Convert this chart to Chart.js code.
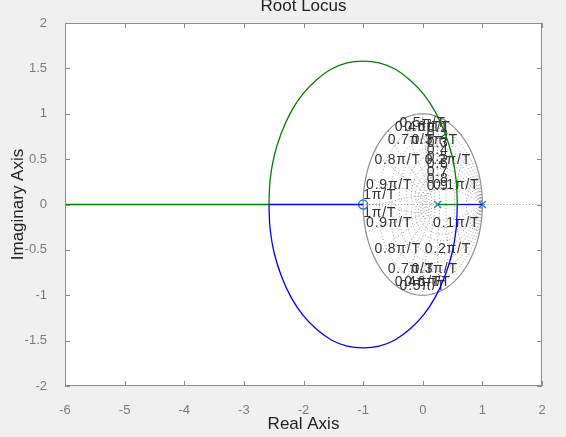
<!DOCTYPE html>
<html lang="en">
<head>
  <meta charset="UTF-8" />
  <title>Root Locus</title>
  <script src="https://cdn.jsdelivr.net/npm/chart.js"></script>
  <style>
    html, body {
      margin: 0;
      padding: 0;
      background: #f0f0f0;
    }
    #locus {
      display: block;
    }
  </style>
</head>
<body>
  <canvas id="locus" width="566" height="437"></canvas>
  <script>
  // complex part of the locus (upper half = green branch)
  const greenArcRe = [0.58, 0.56, 0.49, 0.37, 0.21, 0.02, -0.21, -0.46, -0.73, -1.00, -1.27, -1.54, -1.79, -2.02, -2.21, -2.37, -2.49, -2.56, -2.58];
  const greenArcIm = [0, 0.27, 0.54, 0.79, 1.02, 1.21, 1.37, 1.49, 1.56, 1.58, 1.56, 1.49, 1.37, 1.21, 1.02, 0.79, 0.54, 0.27, 0];
  const blueArcRe = [0.58, 0.56, 0.49, 0.37, 0.21, 0.02, -0.21, -0.46, -0.73, -1.00, -1.27, -1.54, -1.79, -2.02, -2.21, -2.37, -2.49, -2.56, -2.58];
  const blueArcIm = [0, -0.27, -0.54, -0.79, -1.02, -1.21, -1.37, -1.49, -1.56, -1.58, -1.56, -1.49, -1.37, -1.21, -1.02, -0.79, -0.54, -0.27, 0];
  // real-axis pieces: [from, to]
  const greenAxisRight = [0.25, 0.58];
  const greenAxisLeft = [-2.58, -6];
  const blueAxisRight = [1, 0.58];
  const blueAxisLeft = [-2.58, -1];

  const poleRe = [0.25, 1];
  const poleIm = [0, 0];
  const zeroRe = [-1];
  const zeroIm = [0];

  // zgrid settings
  const dampingRatios = [0.1, 0.2, 0.3, 0.4, 0.5, 0.6, 0.7, 0.8, 0.9];
  const dampingLabelY = [0.84, 0.76, 0.68, 0.60, 0.52, 0.44, 0.36, 0.28, 0.20];
  const natFreqs = [0.1, 0.2, 0.3, 0.4, 0.5, 0.6, 0.7, 0.8, 0.9, 1];

  const xTicksMin = -6, xTicksMax = 2;
  const yTicksMin = -2, yTicksMax = 2;

  const toPts = (re, im) => re.map((v, i) => ({ x: v, y: im[i] }));
  const onAxis = seg => seg.map(v => ({ x: v, y: 0 }));

  const FONT = '"Liberation Sans", Arial, sans-serif';
  const BOX = '#8c8c8c';
  const GREEN = '#008000', BLUE = '#0000ff';

  const zgrid = {
    id: 'zgrid',
    beforeDraw(chart) {
      const { ctx, chartArea: a } = chart;
      ctx.save();
      ctx.fillStyle = '#f0f0f0';
      ctx.fillRect(0, 0, chart.width, chart.height);
      ctx.fillStyle = '#fff';
      ctx.fillRect(a.left, a.top, a.right - a.left, a.bottom - a.top);
      ctx.restore();
    },
    beforeDatasetsDraw(chart) {
      const { ctx, chartArea: a } = chart;
      const xs = chart.scales.x, ys = chart.scales.y;
      const px = v => xs.getPixelForValue(v);
      const py = v => ys.getPixelForValue(v);
      const line = pts => {
        ctx.beginPath();
        pts.forEach((p, i) => i ? ctx.lineTo(px(p[0]), py(p[1])) : ctx.moveTo(px(p[0]), py(p[1])));
        ctx.stroke();
      };
      ctx.save();
      ctx.beginPath();
      ctx.rect(a.left, a.top, a.right - a.left, a.bottom - a.top);
      ctx.clip();

      ctx.strokeStyle = '#6e6e6e';
      ctx.lineWidth = 0.7;
      ctx.setLineDash([1, 2.2]);
      // real axis
      line([[xTicksMin, 0], [xTicksMax, 0]]);
      // constant damping
      dampingRatios.forEach(z => {
        const m = z / Math.sqrt(1 - z * z);
        [1, -1].forEach(s => {
          const pts = [];
          for (let i = 0; i <= 80; i++) {
            const th = Math.PI * i / 80, r = Math.exp(-m * th);
            pts.push([r * Math.cos(th), s * r * Math.sin(th)]);
          }
          line(pts);
        });
      });
      // constant natural frequency
      natFreqs.forEach(k => {
        const w = k * Math.PI;
        [1, -1].forEach(s => {
          const pts = [];
          for (let i = 0; i <= 50; i++) {
            const z = i / 50, r = Math.exp(-w * z), ang = w * Math.sqrt(1 - z * z);
            pts.push([r * Math.cos(ang), s * r * Math.sin(ang)]);
          }
          line(pts);
        });
      });
      // unit circle
      ctx.setLineDash([]);
      ctx.strokeStyle = '#8f8f8f';
      ctx.lineWidth = 1.2;
      const circ = [];
      for (let i = 0; i <= 120; i++) {
        const t = 2 * Math.PI * i / 120;
        circ.push([Math.cos(t), Math.sin(t)]);
      }
      line(circ);

      // labels
      ctx.fillStyle = '#333';
      ctx.font = '14px ' + FONT;
      ctx.letterSpacing = '0.8px';
      natFreqs.forEach(k => {
        const c = Math.cos(k * Math.PI), sn = Math.sin(k * Math.PI);
        const txt = (k === 1 ? '1' : k.toFixed(1)) + '\u03c0/T';
        ctx.textAlign = Math.abs(c) < 1e-6 ? 'center' : (c > 0 ? 'right' : 'left');
        ctx.textBaseline = 'top';
        ctx.fillText(txt, px(c), py(sn) + 2);
        ctx.textBaseline = 'bottom';
        ctx.fillText(txt, px(c), py(-sn) - 2);
      });
      ctx.textAlign = 'center';
      ctx.textBaseline = 'middle';
      dampingRatios.forEach((z, i) => {
        ctx.fillText(String(z), px(0.25), py(dampingLabelY[i]));
      });
      ctx.restore();
    },
    afterDraw(chart) {
      const { ctx, chartArea: a } = chart;
      const xs = chart.scales.x, ys = chart.scales.y;
      ctx.save();
      ctx.strokeStyle = BOX;
      ctx.lineWidth = 1;
      ctx.strokeRect(a.left + 0.5, a.top + 0.5, a.right - a.left - 1, a.bottom - a.top - 1);
      ctx.beginPath();
      xs.ticks.forEach(t => {
        const x = Math.round(xs.getPixelForValue(t.value)) + 0.5;
        ctx.moveTo(x, a.bottom); ctx.lineTo(x, a.bottom - 5);
        ctx.moveTo(x, a.top); ctx.lineTo(x, a.top + 5);
      });
      ys.ticks.forEach(t => {
        const y = Math.round(ys.getPixelForValue(t.value)) + 0.5;
        ctx.moveTo(a.left, y); ctx.lineTo(a.left + 5, y);
        ctx.moveTo(a.right, y); ctx.lineTo(a.right - 5, y);
      });
      ctx.stroke();

      ctx.fillStyle = '#222';
      ctx.font = '17px ' + FONT;
      ctx.textAlign = 'center';
      ctx.textBaseline = 'alphabetic';
      const cx = (a.left + a.right) / 2;
      ctx.fillText('Root Locus', cx, 11);
      ctx.textBaseline = 'middle';
      ctx.fillText('Real Axis', cx, 424);
      ctx.translate(18, (a.top + a.bottom) / 2);
      ctx.rotate(-Math.PI / 2);
      ctx.fillText('Imaginary Axis', 0, 0);
      ctx.restore();
    }
  };

  const tickFont = { family: FONT, size: 13 };
  const branch = (pts, color, tension) => ({
    data: pts,
    showLine: true,
    borderColor: color,
    borderWidth: 1.3,
    pointRadius: 0,
    tension: tension
  });

  new Chart(document.getElementById('locus'), {
    type: 'scatter',
    data: {
      datasets: [
        branch(toPts(blueArcRe, blueArcIm), BLUE, 0.4),
        branch(onAxis(blueAxisRight), BLUE, 0),
        branch(onAxis(blueAxisLeft), BLUE, 0),
        branch(toPts(greenArcRe, greenArcIm), GREEN, 0.4),
        branch(onAxis(greenAxisRight), GREEN, 0),
        branch(onAxis(greenAxisLeft), GREEN, 0),
        {
          data: toPts(poleRe, poleIm),
          pointStyle: 'crossRot',
          pointRadius: 5,
          borderColor: '#2a86cf',
          borderWidth: 1.5
        },
        {
          data: toPts(zeroRe, zeroIm),
          pointStyle: 'circle',
          pointRadius: 4.5,
          backgroundColor: 'rgba(0,0,0,0)',
          borderColor: '#2a86cf',
          borderWidth: 1.5
        }
      ]
    },
    options: {
      responsive: false,
      animation: false,
      events: [],
      layout: { padding: { top: 23, right: 24, left: 0, bottom: 0 } },
      plugins: { legend: { display: false }, tooltip: { enabled: false } },
      scales: {
        x: {
          type: 'linear',
          min: xTicksMin,
          max: xTicksMax,
          afterFit: s => { s.height = 51; },
          grid: { display: false },
          border: { display: false },
          ticks: { stepSize: 1, padding: 9, color: '#7a7a7a', font: tickFont, maxRotation: 0, autoSkip: false, callback: v => String(v) }
        },
        y: {
          min: yTicksMin,
          max: yTicksMax,
          afterFit: s => { s.width = 65; },
          grid: { display: false },
          border: { display: false },
          ticks: { stepSize: 0.5, padding: 10, color: '#7a7a7a', font: tickFont, autoSkip: false, callback: v => String(v) }
        }
      }
    },
    plugins: [zgrid]
  });
  </script>
</body>
</html>
